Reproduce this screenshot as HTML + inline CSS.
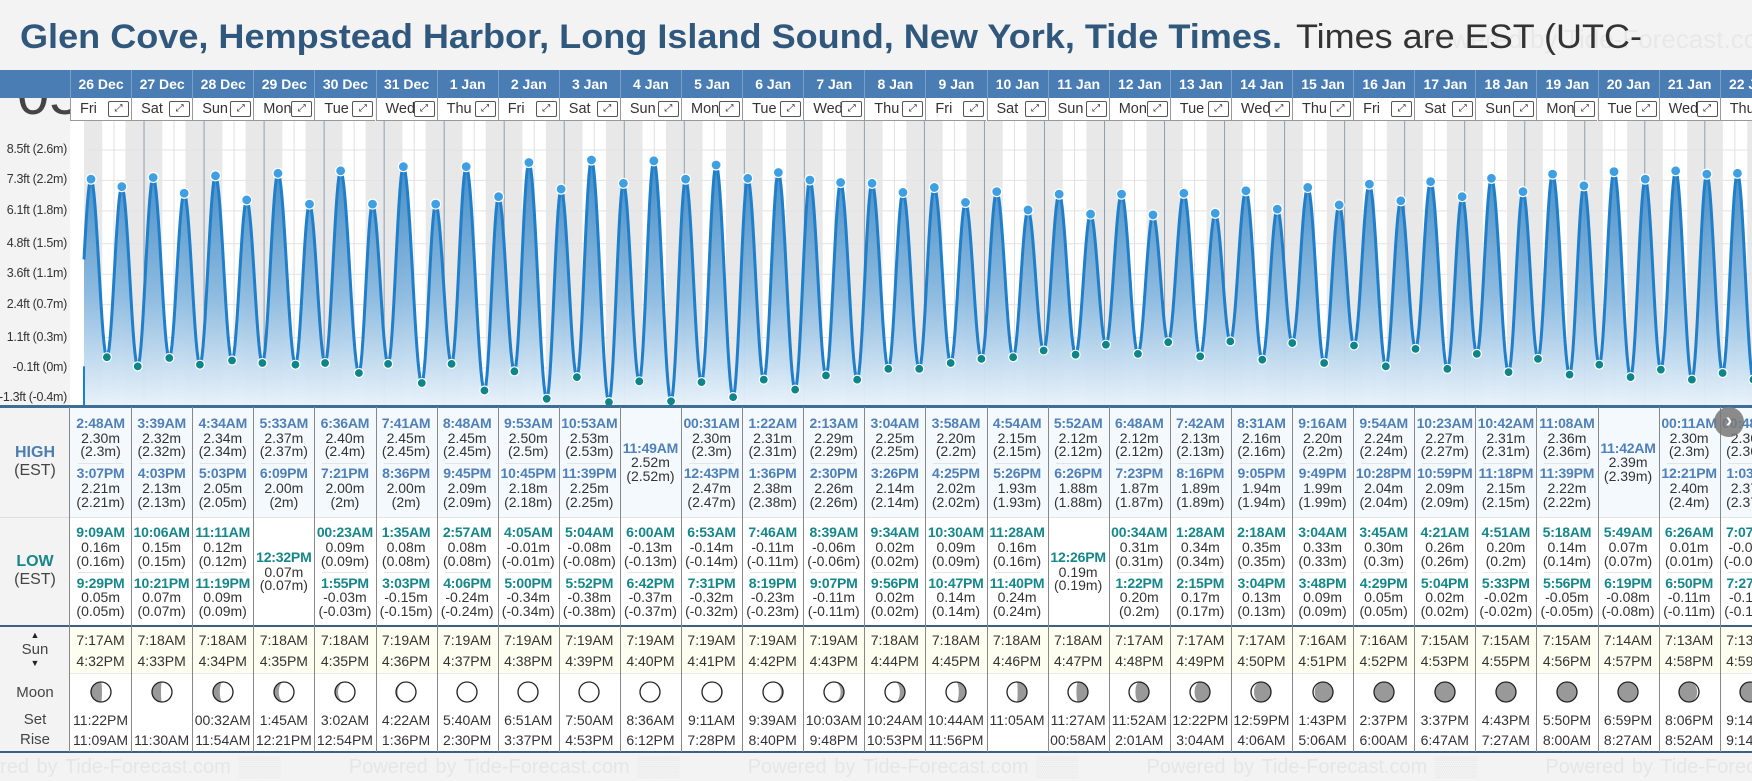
<!DOCTYPE html>
<html><head><meta charset="utf-8">
<style>
*{box-sizing:border-box;margin:0;padding:0}
body{width:1752px;height:781px;overflow:hidden;background:#f3f3f3;font-family:"Liberation Sans",sans-serif;position:relative;color:#333}
.a{position:absolute}
.t{position:absolute;text-align:center;white-space:nowrap;height:18px;line-height:18px}
.hd{position:absolute;top:70px;height:28px;line-height:28px;color:#fff;font-weight:bold;font-size:14px;text-align:center;border-left:1px solid #7aa0c8}
.dw{position:absolute;top:98px;height:23px;line-height:22px;background:#fff;font-size:14.5px;border-left:1px solid #999;border-bottom:1px solid #999}
.ex{position:absolute;top:3px;width:21px;height:16px;border:1px solid #555;border-radius:2px;font-size:10px;line-height:13px;text-align:center;color:#222}
.lbl{position:absolute;left:0;width:70px;text-align:center;font-size:15px;color:#444}
</style></head>
<body>
<svg class="a" style="left:0;top:0" width="1752" height="70">
<text x="1420" y="48" font-size="26" fill="#e8e8e8" font-family="Liberation Sans">Powered by Tide-Forecast.com</text>
<text x="20" y="48" font-size="34" font-weight="bold" fill="#30587d" font-family="Liberation Sans" textLength="1262" lengthAdjust="spacingAndGlyphs">Glen Cove, Hempstead Harbor, Long Island Sound, New York, Tide Times.</text>
<text x="1296" y="48" font-size="34" fill="#333" font-family="Liberation Sans" textLength="346" lengthAdjust="spacingAndGlyphs">Times are EST (UTC-</text>
</svg>
<div class="a" style="left:0;top:70px;width:1752px;height:28px;background:#4a7db3"></div>
<div class="a" style="left:0;top:98px;width:70px;height:23px;overflow:hidden"><div class="a" style="left:17px;top:-33px;font-size:58px;color:#444;line-height:60px">05:</div></div>
<div id="hdr"></div>
<svg id="chart" class="a" style="left:0;top:121px" width="1752" height="286"></svg>
<div class="a" style="left:70px;top:407px;width:1682px;height:110px;background:#f4f9fd"></div>
<div class="a" style="left:70px;top:517px;width:1682px;height:109px;background:#fff;border-top:1px solid #e4e4e4"></div>
<div class="a" style="left:70px;top:626px;width:1682px;height:47px;background:#fdfdf0"></div>
<div class="a" style="left:70px;top:673px;width:1682px;height:79px;background:#fff;border-top:1px solid #e8e8e8"></div>
<div class="a" style="left:0;top:405px;width:1752px;height:3px;background:#3e6d98"></div>
<div class="a" style="left:0;top:625px;width:1752px;height:2px;background:#3e5f80"></div>
<div class="a" style="left:0;top:751px;width:1752px;height:2px;background:#3e5f80"></div>
<div class="a" style="left:0;top:517px;width:70px;height:1px;background:#ddd"></div>
<div class="a" style="left:69px;top:407px;width:1px;height:345px;background:#888"></div>
<div class="lbl" style="top:444px;font-weight:bold;color:#4a7db3;font-size:16px">HIGH</div>
<div class="lbl" style="top:462px;font-size:16px">(EST)</div>
<div class="lbl" style="top:553px;font-weight:bold;color:#15878a;font-size:16px">LOW</div>
<div class="lbl" style="top:571px;font-size:16px">(EST)</div>
<div class="lbl" style="top:630px;font-size:9px;color:#222">▲</div>
<div class="lbl" style="top:641px;font-size:15px">Sun</div>
<div class="lbl" style="top:658px;font-size:9px;color:#222">▼</div>
<div class="lbl" style="top:684px">Moon</div>
<div class="lbl" style="top:711px">Set</div>
<div class="lbl" style="top:731px">Rise</div>
<div class="a" style="left:0;top:753px;width:1752px;height:28px;overflow:hidden">
<div class="a" style="left:-50px;top:3px;font-size:20px;color:#e6e6e6;white-space:nowrap;word-spacing:2px">Powered by Tide-Forecast.com &#9618;&#9618;&#9618;&nbsp;&nbsp;&nbsp;&nbsp;&nbsp;&nbsp;&nbsp;&nbsp; Powered by Tide-Forecast.com &#9618;&#9618;&#9618;&nbsp;&nbsp;&nbsp;&nbsp;&nbsp;&nbsp;&nbsp;&nbsp; Powered by Tide-Forecast.com &#9618;&#9618;&#9618;&nbsp;&nbsp;&nbsp;&nbsp;&nbsp;&nbsp;&nbsp;&nbsp; Powered by Tide-Forecast.com &#9618;&#9618;&#9618;&nbsp;&nbsp;&nbsp;&nbsp;&nbsp;&nbsp;&nbsp;&nbsp; Powered by Tide-Forecast.com &#9618;&#9618;&#9618;&nbsp;&nbsp;&nbsp;&nbsp;&nbsp;&nbsp;&nbsp;&nbsp; Powered by Tide-Forecast.com</div></div>
<div id="tbl"></div>
<div class="a" style="left:1714px;top:407px;width:30px;height:30px;border-radius:15px;background:rgba(120,120,120,0.85);color:#fff;font-size:20px;line-height:28px;text-align:center;font-weight:bold">&#8250;</div>
<script>
const days=['26 Dec','27 Dec','28 Dec','29 Dec','30 Dec','31 Dec','1 Jan','2 Jan','3 Jan','4 Jan','5 Jan','6 Jan','7 Jan','8 Jan','9 Jan','10 Jan','11 Jan','12 Jan','13 Jan','14 Jan','15 Jan','16 Jan','17 Jan','18 Jan','19 Jan','20 Jan','21 Jan','22 Jan'];
const dows=['Fri','Sat','Sun','Mon','Tue','Wed','Thu','Fri','Sat','Sun','Mon','Tue','Wed','Thu','Fri','Sat','Sun','Mon','Tue','Wed','Thu','Fri','Sat','Sun','Mon','Tue','Wed','Thu'];
const highTimes=[['2:48AM','3:07PM'],['3:39AM','4:03PM'],['4:34AM','5:03PM'],['5:33AM','6:09PM'],['6:36AM','7:21PM'],['7:41AM','8:36PM'],['8:48AM','9:45PM'],['9:53AM','10:45PM'],['10:53AM','11:39PM'],['11:49AM'],['00:31AM','12:43PM'],['1:22AM','1:36PM'],['2:13AM','2:30PM'],['3:04AM','3:26PM'],['3:58AM','4:25PM'],['4:54AM','5:26PM'],['5:52AM','6:26PM'],['6:48AM','7:23PM'],['7:42AM','8:16PM'],['8:31AM','9:05PM'],['9:16AM','9:49PM'],['9:54AM','10:28PM'],['10:23AM','10:59PM'],['10:42AM','11:18PM'],['11:08AM','11:39PM'],['11:42AM'],['00:11AM','12:21PM'],['00:48AM','1:03PM']];
const highVals=[[2.30,2.21],[2.32,2.13],[2.34,2.05],[2.37,2.00],[2.40,2.00],[2.45,2.00],[2.45,2.09],[2.50,2.18],[2.53,2.25],[2.52],[2.30,2.47],[2.31,2.38],[2.29,2.26],[2.25,2.14],[2.20,2.02],[2.15,1.93],[2.12,1.88],[2.12,1.87],[2.13,1.89],[2.16,1.94],[2.20,1.99],[2.24,2.04],[2.27,2.09],[2.31,2.15],[2.36,2.22],[2.39],[2.30,2.40],[2.36,2.37]];
const lowTimes=[['9:09AM','9:29PM'],['10:06AM','10:21PM'],['11:11AM','11:19PM'],['12:32PM'],['00:23AM','1:55PM'],['1:35AM','3:03PM'],['2:57AM','4:06PM'],['4:05AM','5:00PM'],['5:04AM','5:52PM'],['6:00AM','6:42PM'],['6:53AM','7:31PM'],['7:46AM','8:19PM'],['8:39AM','9:07PM'],['9:34AM','9:56PM'],['10:30AM','10:47PM'],['11:28AM','11:40PM'],['12:26PM'],['00:34AM','1:22PM'],['1:28AM','2:15PM'],['2:18AM','3:04PM'],['3:04AM','3:48PM'],['3:45AM','4:29PM'],['4:21AM','5:04PM'],['4:51AM','5:33PM'],['5:18AM','5:56PM'],['5:49AM','6:19PM'],['6:26AM','6:50PM'],['7:07AM','7:27PM']];
const lowVals=[[0.16,0.05],[0.15,0.07],[0.12,0.09],[0.07],[0.09,-0.03],[0.08,-0.15],[0.08,-0.24],[-0.01,-0.34],[-0.08,-0.38],[-0.13,-0.37],[-0.14,-0.32],[-0.11,-0.23],[-0.06,-0.11],[0.02,0.02],[0.09,0.14],[0.16,0.24],[0.19],[0.31,0.20],[0.34,0.17],[0.35,0.13],[0.33,0.09],[0.30,0.05],[0.26,0.02],[0.20,-0.02],[0.14,-0.05],[0.07,-0.08],[0.01,-0.11],[-0.03,-0.11]];
const sunRise=['7:17AM','7:18AM','7:18AM','7:18AM','7:18AM','7:19AM','7:19AM','7:19AM','7:19AM','7:19AM','7:19AM','7:19AM','7:19AM','7:18AM','7:18AM','7:18AM','7:18AM','7:17AM','7:17AM','7:17AM','7:16AM','7:16AM','7:15AM','7:15AM','7:15AM','7:14AM','7:13AM','7:13AM'];
const sunSet=['4:32PM','4:33PM','4:34PM','4:35PM','4:35PM','4:36PM','4:37PM','4:38PM','4:39PM','4:40PM','4:41PM','4:42PM','4:43PM','4:44PM','4:45PM','4:46PM','4:47PM','4:48PM','4:49PM','4:50PM','4:51PM','4:52PM','4:53PM','4:55PM','4:56PM','4:57PM','4:58PM','4:59PM'];
const moonSet=['11:22PM','','00:32AM','1:45AM','3:02AM','4:22AM','5:40AM','6:51AM','7:50AM','8:36AM','9:11AM','9:39AM','10:03AM','10:24AM','10:44AM','11:05AM','11:27AM','11:52AM','12:22PM','12:59PM','1:43PM','2:37PM','3:37PM','4:43PM','5:50PM','6:59PM','8:06PM','9:14PM'];
const moonRise=['11:09AM','11:30AM','11:54AM','12:21PM','12:54PM','1:36PM','2:30PM','3:37PM','4:53PM','6:12PM','7:28PM','8:40PM','9:48PM','10:53PM','11:56PM','','00:58AM','2:01AM','3:04AM','4:06AM','5:06AM','6:00AM','6:47AM','7:27AM','8:00AM','8:27AM','8:52AM','9:14AM'];
const moonLit=[0.45,0.55,0.66,0.76,0.85,0.92,0.97,0.995,1,0.99,0.96,0.9,0.83,0.74,0.64,0.53,0.42,0.32,0.23,0.15,0.08,0.03,0.01,0,0.01,0.04,0.09,0.16];
const moonWaxing=[1,1,1,1,1,1,1,1,1,0,0,0,0,0,0,0,0,0,0,0,0,0,0,0,1,1,1,1];
const yTicks=[8.5,7.3,6.1,4.8,3.6,2.4,1.1,-0.1,-1.3];
const yTickM=[2.6,2.2,1.8,1.5,1.1,0.7,0.3,0,-0.4];
const prevLow=[-0.14,0.05];
const NS='http://www.w3.org/2000/svg';
const W=61.1, X0=70;
function hrs(s){const m=s.match(/(\d+):(\d+)(AM|PM)/);let h=+m[1]%12;if(m[3]=='PM')h+=12;return h+ +m[2]/60;}
const xT=t=>84+60.03*t;
const yFt=f=>368-(f+0.1)*25.35;
const yM=m=>370.5-m*83.2;
function fmt(v){return v.toFixed(2)+'m';}
function fmt2(v){return '('+parseFloat(v.toFixed(2))+'m)';}
const hdr=document.getElementById('hdr');
days.forEach((d,i)=>{
 const h=document.createElement('div');h.className='hd';h.style.left=(X0+i*W)+'px';h.style.width=W+'px';h.textContent=d;
 
 
 hdr.appendChild(h);
 const w=document.createElement('div');w.className='dw';w.style.left=(X0+i*W)+'px';w.style.width=W+'px';
 
 
 const s=document.createElement('span');s.className='a';s.style.left='9px';s.textContent=dows[i];
 
 
 w.appendChild(s);
 const e=document.createElement('div');e.className='ex';e.style.left='37px';e.textContent='⤢';
 
 
 w.appendChild(e);
 hdr.appendChild(w);
});
const svg=document.getElementById('chart');
const OY=121;
function el(tag,attrs,parent){const e=document.createElementNS(NS,tag);for(const k in attrs)e.setAttribute(k,attrs[k]);(parent||svg).appendChild(e);return e;}
svg.innerHTML='<defs><linearGradient id="g" x1="0" y1="0" x2="0" y2="1"><stop offset="0" stop-color="#3b87c4"/><stop offset="0.55" stop-color="#8ab9df"/><stop offset="1" stop-color="#e9f3fb"/></linearGradient><clipPath id="cp"><rect x="70" y="0" width="1682" height="286"/></clipPath></defs>';
const bg=el('rect',{x:70,y:0,width:1682,height:286,fill:'#fff'});


for(let d=-1;d<days.length;d++){
 const ss=d<0?hrs(sunSet[0]):hrs(sunSet[d]);const sr=hrs(sunRise[Math.min(d+1,days.length-1)]);
 const x1=Math.max(xT(d+ss/24),84),x2=xT(d+1+sr/24);
 const r=el('rect',{x:x1,y:0,width:Math.max(0,x2-x1),height:286,fill:'#e8e8e8'});
 
 
}
yTicks.forEach((f,i)=>{
 const y=yFt(f)-OY;
 const l=el('line',{x1:84,x2:1752,y1:y,y2:y,stroke:'#e3e3e3'});
 
 
});
for(let k=1;k<days.length*2;k++){
 if(k%2==0)continue;
 const x=xT(k/2);
 const l=el('line',{x1:x,x2:x,y1:0,y2:286,stroke:'#e0e0e0'});
 
 
}
for(let d=1;d<days.length;d++){
 const x=xT(d);
 const l=el('line',{x1:x,x2:x,y1:0,y2:286,stroke:'#8d9eb2'});
 
 
}
let ext=[{t:prevLow[0],v:prevLow[1],hi:0}];
days.forEach((d,i)=>{
 highTimes[i].forEach((s,j)=>ext.push({t:i+hrs(s)/24,v:highVals[i][j],hi:1}));
 lowTimes[i].forEach((s,j)=>ext.push({t:i+hrs(s)/24,v:lowVals[i][j],hi:0}));
});
ext.sort((a,b)=>a.t-b.t);
let pts=[];
for(let k=0;k<ext.length-1;k++){
 const a=ext[k],b=ext[k+1];const x1=xT(a.t),x2=xT(b.t);
 for(let x=Math.ceil(x1);x<x2;x+=1){if(x<84)continue;const f=(x-x1)/(x2-x1);const v=a.v+(b.v-a.v)*(1-Math.cos(Math.PI*f))/2;pts.push([x,yM(v)-OY]);}
}
const last=ext[ext.length-1];pts.push([xT(last.t),yM(last.v)-OY]);
const line='M'+pts.map(p=>p[0].toFixed(1)+','+p[1].toFixed(1)).join('L');
const area=el('path',{d:line+'L'+pts[pts.length-1][0]+',286L84,286Z',fill:'url(#g)',opacity:0.95,'clip-path':'url(#cp)'});


const lp=el('path',{d:line,fill:'none',stroke:'#1f7fca','stroke-width':3,'clip-path':'url(#cp)'});


const edge=el('line',{x1:84,x2:84,y1:yM(0.05)-OY,y2:286,stroke:'#1f7fca','stroke-width':2});


ext.forEach(e=>{
 if(e.t<0)return;
 const c=el('circle',{cx:xT(e.t),cy:yM(e.v)-OY,r:e.hi?5:4.5,fill:e.hi?'#3ea0e2':'#0d8589',stroke:'#fff','stroke-width':1.2,'clip-path':'url(#cp)'});
 
 
});
const tbl=document.getElementById('tbl');
yTicks.forEach((f,i)=>{
 const d=document.createElement('div');d.className='a';d.style.right=(1752-67)+'px';d.style.top=(yFt(f)-8)+'px';d.style.fontSize='12.5px';d.style.letterSpacing='-0.3px';d.style.color='#333';d.style.whiteSpace='nowrap';
 d.textContent=f+'ft ('+yTickM[i]+'m)';
 
 
 tbl.appendChild(d);
});
function txt(x,y,s,style,name){
 const d=document.createElement('div');d.className='t';d.style.left=x+'px';d.style.width=W+'px';d.style.top=(y-9)+'px';d.textContent=s;d.style.cssText+=style;
 
 
 tbl.appendChild(d);return d;
}
const HT='font-weight:bold;font-size:14px;color:#4f80b8;letter-spacing:-0.2px;';
const LT='font-weight:bold;font-size:14px;color:#15878a;letter-spacing:-0.2px;';
const VT='font-size:14px;color:#333;';
days.forEach((d,i)=>{
 const x=X0+i*W;
 if(i>0){const b=document.createElement('div');b.className='a';b.style.cssText='left:'+x+'px;top:407px;width:1px;height:345px;background:#888';
  
  
  tbl.appendChild(b);}
 const hp=highTimes[i].length==2?[[423,438,451],[473,488,502]]:[[448,462,476]];
 highTimes[i].forEach((s,j)=>{txt(x,hp[j][0],s,HT,'high-tide-time');txt(x,hp[j][1],fmt(highVals[i][j]),VT,'high-tide-height');txt(x,hp[j][2],fmt2(highVals[i][j]),VT,'high-tide-height-rounded');});
 const lq=lowTimes[i].length==2?[[532,547,561],[583,597,611]]:[[557,572,585]];
 lowTimes[i].forEach((s,j)=>{txt(x,lq[j][0],s,LT,'low-tide-time');txt(x,lq[j][1],fmt(lowVals[i][j]),VT,'low-tide-height');txt(x,lq[j][2],fmt2(lowVals[i][j]),VT,'low-tide-height-rounded');});
 [[463,highTimes[i].length],[572,lowTimes[i].length]].forEach(p=>{if(p[1]<2)return;const s=document.createElement('div');s.className='a';s.style.cssText='left:'+(x+8)+'px;top:'+p[0]+'px;width:'+(W-16)+'px;height:1px;background:#e4e4e4';
  
  
  tbl.appendChild(s);});
 txt(x,640,sunRise[i],VT,'sunrise-time');
 txt(x,661,sunSet[i],VT,'sunset-time');
 txt(x,720,moonSet[i],VT,'moonset-time');
 txt(x,740,moonRise[i],VT,'moonrise-time');
 const ms=document.createElementNS(NS,'svg');ms.setAttribute('width',24);ms.setAttribute('height',24);ms.style.cssText='position:absolute;left:'+(x+W/2-12)+'px;top:680px';
 
 
 const r=10,k=moonLit[i],wx=moonWaxing[i];
 el('circle',{cx:12,cy:12,r:r,fill:'#999'},ms);
 const side=wx?1:0; const ex=Math.abs(1-2*k)*r; const sweep2=(k>0.5)?(wx?1:0):(wx?0:1);
 el('path',{d:`M12,2 A${r},${r} 0 0 ${side} 12,22 A${ex.toFixed(2)},${r} 0 0 ${sweep2} 12,2 Z`,fill:'#fff'},ms);
 el('circle',{cx:12,cy:12,r:r,fill:'none',stroke:'#222','stroke-width':1.3},ms);
 tbl.appendChild(ms);
});
</script>
</body></html>
